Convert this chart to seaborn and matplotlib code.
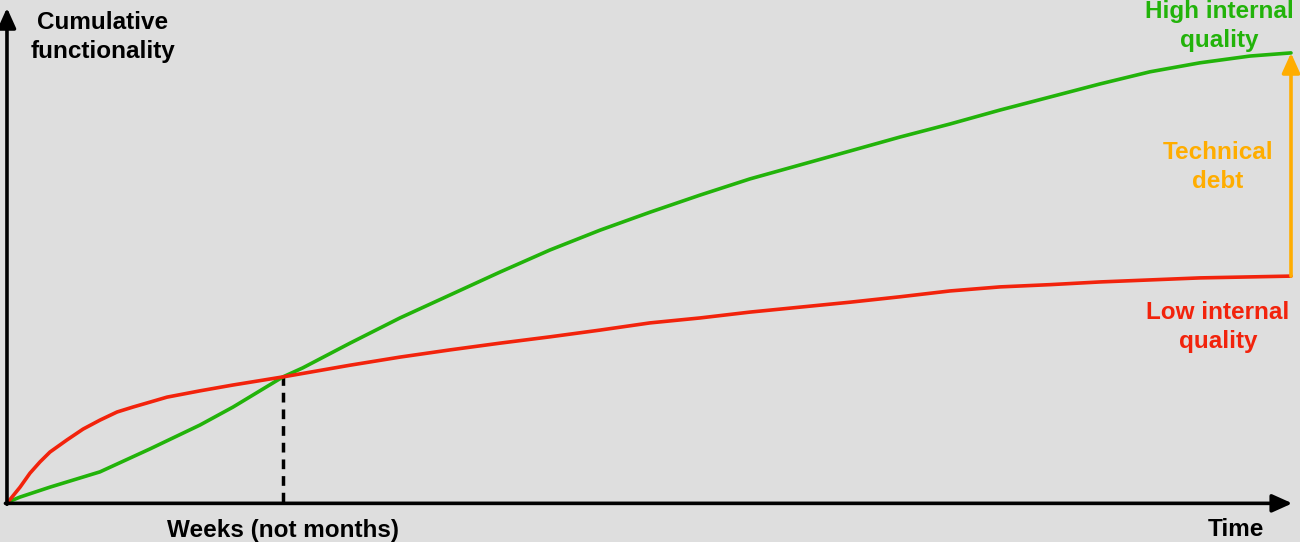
import numpy as np
import pandas as pd
import seaborn as sns
import matplotlib.pyplot as plt

# Time (percent of the horizon) and cumulative functionality
high_time = [0, 0.94, 3.27, 7.17, 11.07, 14.96, 17.54, 21.43, 22.97, 26.66, 30.55, 34.45,
             38.35, 42.24, 46.14, 50.04, 53.94, 57.83, 61.73, 65.63, 69.52, 73.42, 77.32,
             81.22, 85.11, 89.01, 92.91, 96.80, 100]
high_func = [0, 1.1, 3.3, 6.7, 11.8, 17.1, 21.1, 27.8, 29.8, 35.3, 40.9, 46.0,
             51.1, 56.0, 60.4, 64.4, 68.2, 71.8, 74.9, 78.0, 81.1, 84.0, 87.1,
             90.0, 92.9, 95.6, 97.6, 99.1, 99.8]

low_time = [0, 0.94, 1.71, 2.49, 3.27, 4.60, 5.85, 7.17, 8.50, 9.74, 11.07, 12.39,
            14.96, 17.54, 21.43, 26.66, 30.55, 34.45, 38.35, 42.24, 46.14, 50.04, 53.94,
            57.83, 61.73, 65.63, 69.52, 73.42, 77.32, 81.22, 85.11, 92.91, 100]
low_func = [0, 3.3, 6.4, 8.9, 11.1, 13.8, 16.2, 18.2, 20.0, 21.1, 22.2, 23.3,
            24.7, 26.0, 27.8, 30.4, 32.2, 33.8, 35.3, 36.7, 38.2, 39.8, 40.9,
            42.2, 43.3, 44.4, 45.6, 46.9, 47.8, 48.3, 48.9, 49.8, 50.2]

crossover_time = 21.43
crossover_func = 27.8

labels = {
    'y': 'Cumulative\nfunctionality',
    'high': 'High internal\nquality',
    'low': 'Low internal\nquality',
    'debt': 'Technical\ndebt',
    'weeks': 'Weeks (not months)',
    'time': 'Time',
}

GREEN = '#22b30a'
RED = '#f2230c'
ORANGE = '#ffad00'
BG = '#dedede'

df = pd.concat([
    pd.DataFrame({'time': high_time, 'func': high_func, 'quality': 'high'}),
    pd.DataFrame({'time': low_time, 'func': low_func, 'quality': 'low'}),
])

sns.set_theme(style='white')
plt.rcParams['font.family'] = ['Liberation Sans', 'DejaVu Sans']

fig = plt.figure(figsize=(13, 5.42), dpi=100, facecolor=BG)
ax = fig.add_axes([0, 0, 1, 1])
ax.set_facecolor(BG)

sns.lineplot(data=df, x='time', y='func', hue='quality', palette={'high': GREEN, 'low': RED},
             linewidth=2.6, legend=False, ax=ax, sort=False, zorder=3,
             solid_joinstyle='round', solid_capstyle='round')

# dashed drop line at the crossover
ax.plot([crossover_time, crossover_time], [0, crossover_func], color='black',
        linewidth=2.5, linestyle=(0, (2.8, 2.0)), zorder=2)

# axes arrows
arrow_kw = dict(arrowstyle='-|>,head_length=1.0,head_width=0.45', color='black',
                lw=2.6, shrinkA=0, shrinkB=0)
ax.annotate('', xy=(-0.08, 109.8), xytext=(-0.08, -0.5), arrowprops=arrow_kw, zorder=4)
ax.annotate('', xy=(100.1, -0.3), xytext=(-0.2, -0.3), arrowprops=arrow_kw, zorder=4)

# technical debt arrow
debt_kw = dict(arrowstyle='-|>,head_length=1.0,head_width=0.45', color=ORANGE,
               lw=2.6, shrinkA=0, shrinkB=0)
ax.annotate('', xy=(high_time[-1], high_func[-1]), xytext=(low_time[-1], low_func[-1]),
            arrowprops=debt_kw, zorder=4)

ax.set_xlim(-8 / 12.83, 1292 / 12.83)
ax.set_ylim(-40 / 4.5, 502 / 4.5)
ax.axis('off')


def label(px, py, text, color):
    fig.text(px / 1300, 1 - py / 542, text, color=color, fontsize=17.5, fontweight='bold',
             ha='center', va='center', linespacing=1.35)


label(103, 37, labels['y'], 'black')
label(1219, 26, labels['high'], GREEN)
label(1218, 167, labels['debt'], ORANGE)
label(1218, 327, labels['low'], RED)
label(283, 530, labels['weeks'], 'black')
label(1236, 530, labels['time'], 'black')

fig.savefig('out.png', dpi=100, facecolor=BG)
